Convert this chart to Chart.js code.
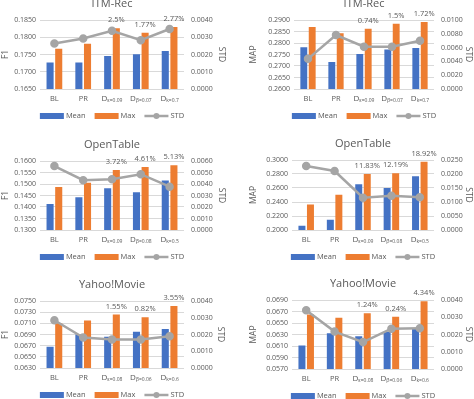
<!DOCTYPE html>
<html><head><meta charset="utf-8">
<script src="https://cdn.jsdelivr.net/npm/chart.js@4/dist/chart.umd.min.js"></script>
<style>
html,body{margin:0;padding:0;background:#fff;overflow:hidden;}
#wrap{position:relative;width:474px;height:399px;}
canvas{position:absolute;}
</style></head><body><div id="wrap"></div>
<script>
// ---- categories (x tick labels) ----
const labelsITM = ["BL","PR","Dε=0.09","Dβ=0.07","Dk=0.7"];
const labelsOT  = ["BL","PR","Dε=0.09","Dβ=0.08","Dk=0.5"];
const labelsYM  = ["BL","PR","Dε=0.08","Dβ=0.06","Dk=0.6"];

// ---- ITM-Rec ----
const itmF1Mean = [0.1727,0.1727,0.1746,0.1751,0.1760];
const itmF1Max  = [0.1767,0.1781,0.1826,0.1813,0.1830];
const itmF1Std  = [0.00264,0.00293,0.00338,0.00283,0.00348];
const itmF1Gain = ["","","2.5%","1.77%","2.77%"];
const itmF1Left = [0.165,0.185,0.005];
const itmF1Right = [0,0.004,0.001];

const itmMapMean = [0.2781,0.2717,0.2752,0.2772,0.2778];
const itmMapMax  = [0.2870,0.2842,0.2862,0.2884,0.2891];
const itmMapStd  = [0.00437,0.00782,0.00612,0.00612,0.00699];
const itmMapGain = ["","","0.74%","1.5%","1.72%"];
const itmMapLeft = [0.26,0.29,0.005];
const itmMapRight = [0,0.01,0.002];

// ---- OpenTable ----
const otF1Mean = [0.1413,0.1442,0.1481,0.1464,0.1515];
const otF1Max  = [0.1487,0.1505,0.1561,0.1574,0.1582];
const otF1Std  = [0.00556,0.00433,0.00442,0.00485,0.00377];
const otF1Gain = ["","","3.72%","4.61%","5.13%"];
const otF1Left = [0.13,0.16,0.005];
const otF1Right = [0,0.006,0.001];

const otMapMean = [0.2062,0.2148,0.2652,0.2600,0.2767];
const otMapMax  = [0.2365,0.2502,0.2800,0.2810,0.2976];
const otMapStd  = [0.02286,0.02107,0.01155,0.01226,0.01167];
const otMapGain = ["","","11.83%","12.19%","18.92%"];
const otMapLeft = [0.2,0.3,0.02];
const otMapRight = [0,0.025,0.005];

// ---- Yahoo!Movie ----
const ymF1Mean = [0.0668,0.0690,0.0686,0.0695,0.0700];
const ymF1Max  = [0.0710,0.0715,0.0726,0.0721,0.0741];
const ymF1Std  = [0.00285,0.00182,0.00170,0.00170,0.00190];
const ymF1Gain = ["","","1.55%","0.82%","3.55%"];
const ymF1Left = [0.063,0.075,0.002];
const ymF1Right = [0,0.004,0.001];

const ymMapMean = [0.0611,0.0632,0.0627,0.0635,0.0640];
const ymMapMax  = [0.0665,0.0659,0.0667,0.0661,0.0688];
const ymMapStd  = [0.00341,0.00217,0.00156,0.00234,0.00236];
const ymMapGain = ["","","1.24%","0.24%","4.34%"];
const ymMapLeft = [0.057,0.069,0.002];
const ymMapRight = [0,0.004,0.001];

const INK = '#595959';
const FAM = "'Open Sans', sans-serif";
const BLUE = '#4472C4', ORANGE = '#ED7D31', GRAY = '#A5A5A5';
const W = 237, H = 133;

const panelDeco = {
  id: 'panelDeco',
  afterDraw(chart, args, o) {
    const ctx = chart.ctx, ca = chart.chartArea;
    const cx = (ca.left + ca.right) / 2;
    ctx.save();
    ctx.fillStyle = INK;
    ctx.textBaseline = 'middle';
    // title
    ctx.font = `11px ${FAM}`;
    ctx.textAlign = 'center';
    ctx.fillText(o.title, cx, ca.top - 16);
    // category labels with subscripts
    const xs = chart.scales.x;
    chart.data.labels.forEach((lab, i) => {
      const x = xs.getPixelForValue(i);
      const y = ca.bottom + 10;
      if (lab.length > 2) {
        const main = lab[0], sub = lab.slice(1);
        ctx.font = `8px ${FAM}`; const mw = ctx.measureText(main).width;
        ctx.font = `5px ${FAM}`; const sw = ctx.measureText(sub).width;
        const st = x - (mw + sw) / 2;
        ctx.textAlign = 'left';
        ctx.font = `8px ${FAM}`; ctx.fillText(main, st, y);
        ctx.font = `5px ${FAM}`; ctx.fillText(sub, st + mw, y + 2);
      } else {
        ctx.textAlign = 'center';
        ctx.font = `7.5px ${FAM}`; ctx.fillText(lab, x, y);
      }
    });
    // improvement labels above Max bars
    const maxMeta = chart.getDatasetMeta(1);
    ctx.font = `7.5px ${FAM}`;
    ctx.textAlign = 'center';
    o.gains.forEach((g, i) => {
      if (!g) return;
      const el = maxMeta.data[i];
      ctx.fillText(g, el.x, el.y - 8);
    });
    // legend
    ctx.font = `7.5px ${FAM}`;
    const items = chart.data.datasets.map(d => ({t: d.label, c: d.type === 'line' ? GRAY : d.backgroundColor, line: d.type === 'line'}));
    const sw = 24, gapT = 2, gapI = 9;
    let total = 0;
    items.forEach((it, k) => { it.w = ctx.measureText(it.t).width; total += sw + gapT + it.w + (k < items.length - 1 ? gapI : 0); });
    let x = cx - total / 2;
    const ly = ca.bottom + 27;
    items.forEach(it => {
      if (it.line) {
        ctx.strokeStyle = it.c; ctx.lineWidth = 2.5;
        ctx.beginPath(); ctx.moveTo(x, ly); ctx.lineTo(x + sw, ly); ctx.stroke();
        ctx.fillStyle = it.c; ctx.beginPath(); ctx.arc(x + sw / 2, ly, 3, 0, Math.PI * 2); ctx.fill();
      } else {
        ctx.fillStyle = it.c; ctx.fillRect(x, ly - 3, sw, 6);
      }
      x += sw + gapT;
      ctx.fillStyle = INK; ctx.textAlign = 'left';
      ctx.fillText(it.t, x, ly);
      x += it.w + gapI;
    });
    ctx.restore();
  }
};

function makePanel(left, top, p) {
  const c = document.createElement('canvas');
  c.width = W; c.height = H;
  c.style.left = left + 'px'; c.style.top = top + 'px';
  c.style.width = W + 'px'; c.style.height = H + 'px';
  document.getElementById('wrap').appendChild(c);
  const tickFmt = v => Number(v).toFixed(4);
  new Chart(c, {
    type: 'bar',
    data: {
      labels: p.labels,
      datasets: [
        {label: 'Mean', data: p.mean, backgroundColor: BLUE, yAxisID: 'y', order: 2, categoryPercentage: 0.6, barPercentage: 0.82},
        {label: 'Max', data: p.max, backgroundColor: ORANGE, yAxisID: 'y', order: 2, categoryPercentage: 0.6, barPercentage: 0.82},
        {type: 'line', label: 'STD', data: p.std, borderColor: GRAY, backgroundColor: GRAY, borderWidth: 2.5,
         pointRadius: 3, pointBackgroundColor: GRAY, pointBorderColor: GRAY, tension: 0, yAxisID: 'y1', order: 1}
      ]
    },
    options: {
      responsive: false, animation: false, devicePixelRatio: 1,
      layout: {padding: {left: 0, right: 0, top: p.area.top, bottom: H - p.area.bottom}},
      plugins: {legend: {display: false}, title: {display: false}, tooltip: {enabled: false},
        panelDeco: {title: p.title, gains: p.gains}},
      scales: {
        x: {ticks: {display: false}, grid: {display: false}, border: {display: false},
            afterFit(s) { s.height = 0; }},
        y: {position: 'left', min: p.leftAx[0], max: p.leftAx[1],
            ticks: {stepSize: p.leftAx[2], autoSkip: false, callback: tickFmt, color: INK, font: {size: 7, family: FAM}, padding: 4},
            grid: {color: '#D9D9D9', drawTicks: false}, border: {display: false},
            title: {display: true, text: p.yTitle, color: INK, font: {size: 8.5, family: FAM}, padding: {top: p.ltPad, bottom: 0}},
            afterFit(s) { s.width = p.area.left; }},
        y1: {position: 'right', min: p.rightAx[0], max: p.rightAx[1],
            ticks: {stepSize: p.rightAx[2], autoSkip: false, callback: tickFmt, color: INK, font: {size: 7, family: FAM}, padding: 7},
            grid: {display: false, drawTicks: false}, border: {display: false},
            title: {display: true, text: 'STD', color: INK, font: {size: 8.5, family: FAM}, padding: {top: p.rtPad, bottom: 0}},
            afterFit(s) { s.width = W - p.area.right; }}
      }
    },
    plugins: [panelDeco]
  });
}

makePanel(0, 0, {title: 'ITM-Rec', labels: labelsITM, mean: itmF1Mean, max: itmF1Max, std: itmF1Std, gains: itmF1Gain,
  leftAx: itmF1Left, rightAx: itmF1Right, yTitle: 'F1', ltPad: 0, rtPad: 10, area: {left: 40, right: 184, top: 20, bottom: 89}});
makePanel(237, 0, {title: 'ITM-Rec', labels: labelsITM, mean: itmMapMean, max: itmMapMax, std: itmMapStd, gains: itmMapGain,
  leftAx: itmMapLeft, rightAx: itmMapRight, yTitle: 'MAP', ltPad: 11, rtPad: 0, area: {left: 57, right: 197, top: 20, bottom: 89}});
makePanel(0, 133, {title: 'OpenTable', labels: labelsOT, mean: otF1Mean, max: otF1Max, std: otF1Std, gains: otF1Gain,
  leftAx: otF1Left, rightAx: otF1Right, yTitle: 'F1', ltPad: 0, rtPad: 10, area: {left: 40, right: 184, top: 28, bottom: 97}});
makePanel(237, 133, {title: 'OpenTable', labels: labelsOT, mean: otMapMean, max: otMapMax, std: otMapStd, gains: otMapGain,
  leftAx: otMapLeft, rightAx: otMapRight, yTitle: 'MAP', ltPad: 11, rtPad: 0, area: {left: 55, right: 197, top: 27, bottom: 97}});
makePanel(0, 266, {title: 'Yahoo!Movie', labels: labelsYM, mean: ymF1Mean, max: ymF1Max, std: ymF1Std, gains: ymF1Gain,
  leftAx: ymF1Left, rightAx: ymF1Right, yTitle: 'F1', ltPad: 0, rtPad: 11, area: {left: 40, right: 184, top: 35, bottom: 102}});
makePanel(237, 266, {title: 'Yahoo!Movie', labels: labelsYM, mean: ymMapMean, max: ymMapMax, std: ymMapStd, gains: ymMapGain,
  leftAx: ymMapLeft, rightAx: ymMapRight, yTitle: 'MAP', ltPad: 11, rtPad: 0, area: {left: 55, right: 197, top: 34, bottom: 103}});
</script>
</body></html>
